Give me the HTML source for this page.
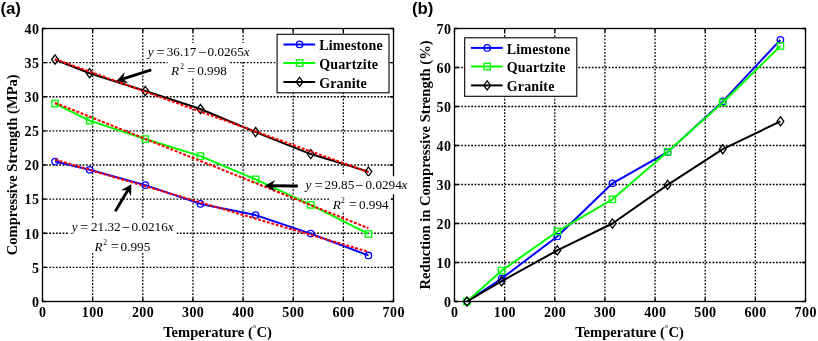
<!DOCTYPE html>
<html><head><meta charset="utf-8"><style>
html,body{margin:0;padding:0;background:#fff;}
svg{display:block;}
text{font-family:"Liberation Serif",serif;}
.tl text{font-size:14px;font-weight:bold;letter-spacing:0.4px;}
.lg{font-size:14px;font-weight:bold;letter-spacing:0.15px;}
.lab{font-size:14.6px;font-weight:bold;}
.eq{font-size:13.2px;}
.pl{font-family:"Liberation Sans",sans-serif;font-size:16.8px;font-weight:bold;}
</style></head><body>
<svg width="818" height="341" viewBox="0 0 818 341">
<rect width="818" height="341" fill="#fff"/>
<path d="M92.64 28.5V301.5M142.79 28.5V301.5M192.93 28.5V301.5M243.07 28.5V301.5M293.21 28.5V301.5M343.36 28.5V301.5M42.5 267.38H393.5M42.5 233.25H393.5M42.5 199.12H393.5M42.5 165H393.5M42.5 130.88H393.5M42.5 96.75H393.5M42.5 62.62H393.5" stroke="#000" stroke-width="1.3" stroke-dasharray="1.75 1.6" fill="none"/><path d="M42.5 301.5v-3.5M42.5 28.5v3.5M92.64 301.5v-3.5M92.64 28.5v3.5M142.79 301.5v-3.5M142.79 28.5v3.5M192.93 301.5v-3.5M192.93 28.5v3.5M243.07 301.5v-3.5M243.07 28.5v3.5M293.21 301.5v-3.5M293.21 28.5v3.5M343.36 301.5v-3.5M343.36 28.5v3.5M393.5 301.5v-3.5M393.5 28.5v3.5M42.5 301.5h3.5M393.5 301.5h-3.5M42.5 267.38h3.5M393.5 267.38h-3.5M42.5 233.25h3.5M393.5 233.25h-3.5M42.5 199.12h3.5M393.5 199.12h-3.5M42.5 165h3.5M393.5 165h-3.5M42.5 130.88h3.5M393.5 130.88h-3.5M42.5 96.75h3.5M393.5 96.75h-3.5M42.5 62.62h3.5M393.5 62.62h-3.5M42.5 28.5h3.5M393.5 28.5h-3.5" stroke="#000" stroke-width="1.3" fill="none"/>
<polyline points="55.04,161.59 89.63,169.78 145.29,185.13 200.45,203.9 255.61,215.1 310.76,233.59 368.43,255.43" fill="none" stroke="#0000ff" stroke-width="2.0" stroke-linejoin="round"/><circle cx="55.04" cy="161.59" r="3.2" fill="none" stroke="#0000ff" stroke-width="1.3"/><circle cx="89.63" cy="169.78" r="3.2" fill="none" stroke="#0000ff" stroke-width="1.3"/><circle cx="145.29" cy="185.13" r="3.2" fill="none" stroke="#0000ff" stroke-width="1.3"/><circle cx="200.45" cy="203.9" r="3.2" fill="none" stroke="#0000ff" stroke-width="1.3"/><circle cx="255.61" cy="215.1" r="3.2" fill="none" stroke="#0000ff" stroke-width="1.3"/><circle cx="310.76" cy="233.59" r="3.2" fill="none" stroke="#0000ff" stroke-width="1.3"/><circle cx="368.43" cy="255.43" r="3.2" fill="none" stroke="#0000ff" stroke-width="1.3"/>
<polyline points="55.04,103.57 89.63,120.64 145.29,139.06 200.45,156.13 255.61,179.33 310.76,204.93 368.43,233.93" fill="none" stroke="#00ff00" stroke-width="2.0" stroke-linejoin="round"/><rect x="51.84" y="100.37" width="6.4" height="6.4" fill="none" stroke="#00ff00" stroke-width="1.3"/><rect x="86.43" y="117.44" width="6.4" height="6.4" fill="none" stroke="#00ff00" stroke-width="1.3"/><rect x="142.09" y="135.87" width="6.4" height="6.4" fill="none" stroke="#00ff00" stroke-width="1.3"/><rect x="197.25" y="152.93" width="6.4" height="6.4" fill="none" stroke="#00ff00" stroke-width="1.3"/><rect x="252.41" y="176.13" width="6.4" height="6.4" fill="none" stroke="#00ff00" stroke-width="1.3"/><rect x="307.56" y="201.73" width="6.4" height="6.4" fill="none" stroke="#00ff00" stroke-width="1.3"/><rect x="365.23" y="230.73" width="6.4" height="6.4" fill="none" stroke="#00ff00" stroke-width="1.3"/>
<polyline points="55.04,59.49 89.63,73.2 145.29,91.02 200.45,109.04 255.61,132.1 310.76,154.08 368.43,171.62" fill="none" stroke="#000" stroke-width="2.0" stroke-linejoin="round"/><path d="M55.04 54.89L58.44 59.49L55.04 64.09L51.64 59.49Z" fill="none" stroke="#000" stroke-width="1.3"/><path d="M89.63 68.6L93.03 73.2L89.63 77.8L86.23 73.2Z" fill="none" stroke="#000" stroke-width="1.3"/><path d="M145.29 86.42L148.69 91.02L145.29 95.62L141.89 91.02Z" fill="none" stroke="#000" stroke-width="1.3"/><path d="M200.45 104.44L203.85 109.04L200.45 113.64L197.05 109.04Z" fill="none" stroke="#000" stroke-width="1.3"/><path d="M255.61 127.5L259.01 132.1L255.61 136.7L252.21 132.1Z" fill="none" stroke="#000" stroke-width="1.3"/><path d="M310.76 149.48L314.16 154.08L310.76 158.68L307.36 154.08Z" fill="none" stroke="#000" stroke-width="1.3"/><path d="M368.43 167.02L371.83 171.62L368.43 176.22L365.03 171.62Z" fill="none" stroke="#000" stroke-width="1.3"/>
<line x1="55.04" y1="59.16" x2="368.43" y2="172.2" stroke="#ff0000" stroke-width="2.1" stroke-dasharray="3 1.6"/>
<line x1="55.04" y1="102.79" x2="368.43" y2="228.2" stroke="#ff0000" stroke-width="2.1" stroke-dasharray="3 1.6"/>
<line x1="55.04" y1="159.68" x2="368.43" y2="251.81" stroke="#ff0000" stroke-width="2.1" stroke-dasharray="3 1.6"/>
<rect x="42.5" y="28.5" width="351" height="273" fill="none" stroke="#000" stroke-width="1.3"/>
<rect x="277.1" y="34.3" width="111.9" height="58.5" fill="#fff" stroke="#000" stroke-width="1.1"/><line x1="283.4" y1="44.4" x2="315.1" y2="44.4" stroke="#0000ff" stroke-width="2.0"/><circle cx="299.6" cy="44.4" r="3.2" fill="none" stroke="#0000ff" stroke-width="1.3"/><text x="319.2" y="50.1" class="lg">Limestone</text><line x1="283.4" y1="63" x2="315.1" y2="63" stroke="#00ff00" stroke-width="2.0"/><rect x="296.4" y="59.8" width="6.4" height="6.4" fill="none" stroke="#00ff00" stroke-width="1.3"/><text x="319.2" y="68.7" class="lg">Quartzite</text><line x1="283.4" y1="81.9" x2="315.1" y2="81.9" stroke="#000" stroke-width="2.0"/><path d="M299.6 77.3L303 81.9L299.6 86.5L296.2 81.9Z" fill="none" stroke="#000" stroke-width="1.3"/><text x="319.2" y="87.6" class="lg">Granite</text>
<rect x="144.3" y="43" width="108.3" height="18.1" fill="#fff"/>
<rect x="167.5" y="60" width="61.7" height="17.1" fill="#fff"/>
<g transform="translate(0 55.8) scale(1 1.0)"><text class="eq" x="147.8" y="0" font-style="italic">y</text><text class="eq" x="156.45" y="0.9" style="font-size:14.8px">=</text><text class="eq" x="166.7" y="0">36.17</text><text class="eq" x="197.9" y="0.9" style="font-size:14.8px">&#8722;</text><text class="eq" x="207.5" y="0">0.0265</text><text class="eq" x="243.7" y="0" font-style="italic">x</text></g>
<g transform="translate(0 74.5) scale(1 1.0)"><text class="eq" x="171" y="0" font-style="italic">R</text><text class="eq" x="180.2" y="-5.6" style="font-size:7.5px">2</text><text class="eq" x="186.95" y="0.9" style="font-size:14.8px">=</text><text class="eq" x="197.2" y="0">0.998</text></g>
<rect x="301.9" y="176.2" width="108.7" height="18.1" fill="#fff"/>
<rect x="329.2" y="194" width="61.7" height="17.1" fill="#fff"/>
<g transform="translate(0 189) scale(1 1.0)"><text class="eq" x="305.4" y="0" font-style="italic">y</text><text class="eq" x="314.45" y="0.9" style="font-size:14.8px">=</text><text class="eq" x="324.6" y="0">29.85</text><text class="eq" x="355.1" y="0.9" style="font-size:14.8px">&#8722;</text><text class="eq" x="365.5" y="0">0.0294</text><text class="eq" x="401.4" y="0" font-style="italic">x</text></g>
<g transform="translate(0 208.5) scale(1 1.0)"><text class="eq" x="332.7" y="0" font-style="italic">R</text><text class="eq" x="341.1" y="-5.6" style="font-size:7.5px">2</text><text class="eq" x="348.75" y="0.9" style="font-size:14.8px">=</text><text class="eq" x="358.9" y="0">0.994</text></g>
<rect x="68.3" y="218.2" width="108.3" height="18.1" fill="#fff"/>
<rect x="90.9" y="236" width="61.7" height="17.1" fill="#fff"/>
<g transform="translate(0 231) scale(1 1.0)"><text class="eq" x="71.8" y="0" font-style="italic">y</text><text class="eq" x="80.05" y="0.9" style="font-size:14.8px">=</text><text class="eq" x="91" y="0">21.32</text><text class="eq" x="121.5" y="0.9" style="font-size:14.8px">&#8722;</text><text class="eq" x="131.5" y="0">0.0216</text><text class="eq" x="167.7" y="0" font-style="italic">x</text></g>
<g transform="translate(0 250.5) scale(1 1.0)"><text class="eq" x="94.4" y="0" font-style="italic">R</text><text class="eq" x="103.2" y="-5.6" style="font-size:7.5px">2</text><text class="eq" x="110.85" y="0.9" style="font-size:14.8px">=</text><text class="eq" x="120.6" y="0">0.995</text></g>
<line x1="151.2" y1="69.9" x2="123.07" y2="78.87" stroke="#000" stroke-width="2.8"/><path d="M116.4 81L124.64 72.28L123.07 78.87L128.17 83.33Z" fill="#000"/>
<line x1="297.8" y1="186" x2="271.7" y2="185.76" stroke="#000" stroke-width="2.8"/><path d="M264.7 185.7L275.25 180L271.7 185.76L275.15 191.59Z" fill="#000"/>
<line x1="115.3" y1="211.3" x2="127.82" y2="190.22" stroke="#000" stroke-width="2.8"/><path d="M131.4 184.2L131.02 196.19L127.82 190.22L121.05 190.26Z" fill="#000"/>
<g class="tl"><text x="42.7" y="317" text-anchor="middle">0</text><text x="92.84" y="317" text-anchor="middle">100</text><text x="142.99" y="317" text-anchor="middle">200</text><text x="193.13" y="317" text-anchor="middle">300</text><text x="243.27" y="317" text-anchor="middle">400</text><text x="293.41" y="317" text-anchor="middle">500</text><text x="343.56" y="317" text-anchor="middle">600</text><text x="393.7" y="317" text-anchor="middle">700</text><text x="39.4" y="307.4" text-anchor="end">0</text><text x="39.4" y="272.68" text-anchor="end">5</text><text x="39.4" y="238.55" text-anchor="end">10</text><text x="39.4" y="204.43" text-anchor="end">15</text><text x="39.4" y="170.3" text-anchor="end">20</text><text x="39.4" y="136.18" text-anchor="end">25</text><text x="39.4" y="102.05" text-anchor="end">30</text><text x="39.4" y="67.92" text-anchor="end">35</text><text x="39.4" y="33.8" text-anchor="end">40</text></g>
<text class="lab" x="217.5" y="337.2" text-anchor="middle">Temperature (<tspan dy="-6" font-size="9">&#176;</tspan><tspan dy="6">C)</tspan></text>
<text class="lab" transform="translate(17 164.8) rotate(-90)" text-anchor="middle">Compressive Strength (MPa)</text>
<text class="pl" x="0.4" y="14.4">(a)</text>
<path d="M504.64 28.5V301.5M554.79 28.5V301.5M604.93 28.5V301.5M655.07 28.5V301.5M705.21 28.5V301.5M755.36 28.5V301.5M454.5 262.5H805.5M454.5 223.5H805.5M454.5 184.5H805.5M454.5 145.5H805.5M454.5 106.5H805.5M454.5 67.5H805.5" stroke="#000" stroke-width="1.3" stroke-dasharray="1.75 1.6" fill="none"/><path d="M454.5 301.5v-3.5M454.5 28.5v3.5M504.64 301.5v-3.5M504.64 28.5v3.5M554.79 301.5v-3.5M554.79 28.5v3.5M604.93 301.5v-3.5M604.93 28.5v3.5M655.07 301.5v-3.5M655.07 28.5v3.5M705.21 301.5v-3.5M705.21 28.5v3.5M755.36 301.5v-3.5M755.36 28.5v3.5M805.5 301.5v-3.5M805.5 28.5v3.5M454.5 301.5h3.5M805.5 301.5h-3.5M454.5 262.5h3.5M805.5 262.5h-3.5M454.5 223.5h3.5M805.5 223.5h-3.5M454.5 184.5h3.5M805.5 184.5h-3.5M454.5 145.5h3.5M805.5 145.5h-3.5M454.5 106.5h3.5M805.5 106.5h-3.5M454.5 67.5h3.5M805.5 67.5h-3.5M454.5 28.5h3.5M805.5 28.5h-3.5" stroke="#000" stroke-width="1.3" fill="none"/>
<polyline points="467.04,301.5 501.63,278.49 557.29,236.49 612.45,183.33 667.61,152.13 722.76,101.43 780.43,39.81" fill="none" stroke="#0000ff" stroke-width="2.0" stroke-linejoin="round"/><circle cx="467.04" cy="301.5" r="3.2" fill="none" stroke="#0000ff" stroke-width="1.3"/><circle cx="501.63" cy="278.49" r="3.2" fill="none" stroke="#0000ff" stroke-width="1.3"/><circle cx="557.29" cy="236.49" r="3.2" fill="none" stroke="#0000ff" stroke-width="1.3"/><circle cx="612.45" cy="183.33" r="3.2" fill="none" stroke="#0000ff" stroke-width="1.3"/><circle cx="667.61" cy="152.13" r="3.2" fill="none" stroke="#0000ff" stroke-width="1.3"/><circle cx="722.76" cy="101.43" r="3.2" fill="none" stroke="#0000ff" stroke-width="1.3"/><circle cx="780.43" cy="39.81" r="3.2" fill="none" stroke="#0000ff" stroke-width="1.3"/>
<polyline points="467.04,301.5 501.63,270.69 557.29,231.5 612.45,199.32 667.61,151.74 722.76,102.41 780.43,46.05" fill="none" stroke="#00ff00" stroke-width="2.0" stroke-linejoin="round"/><rect x="463.84" y="298.3" width="6.4" height="6.4" fill="none" stroke="#00ff00" stroke-width="1.3"/><rect x="498.43" y="267.49" width="6.4" height="6.4" fill="none" stroke="#00ff00" stroke-width="1.3"/><rect x="554.09" y="228.3" width="6.4" height="6.4" fill="none" stroke="#00ff00" stroke-width="1.3"/><rect x="609.25" y="196.12" width="6.4" height="6.4" fill="none" stroke="#00ff00" stroke-width="1.3"/><rect x="664.41" y="148.54" width="6.4" height="6.4" fill="none" stroke="#00ff00" stroke-width="1.3"/><rect x="719.56" y="99.2" width="6.4" height="6.4" fill="none" stroke="#00ff00" stroke-width="1.3"/><rect x="777.23" y="42.85" width="6.4" height="6.4" fill="none" stroke="#00ff00" stroke-width="1.3"/>
<polyline points="467.04,301.5 501.63,281.22 557.29,250.41 612.45,223.5 667.61,184.89 722.76,149.21 780.43,121.32" fill="none" stroke="#000" stroke-width="2.0" stroke-linejoin="round"/><path d="M467.04 296.9L470.44 301.5L467.04 306.1L463.64 301.5Z" fill="none" stroke="#000" stroke-width="1.3"/><path d="M501.63 276.62L505.03 281.22L501.63 285.82L498.23 281.22Z" fill="none" stroke="#000" stroke-width="1.3"/><path d="M557.29 245.81L560.69 250.41L557.29 255.01L553.89 250.41Z" fill="none" stroke="#000" stroke-width="1.3"/><path d="M612.45 218.9L615.85 223.5L612.45 228.1L609.05 223.5Z" fill="none" stroke="#000" stroke-width="1.3"/><path d="M667.61 180.29L671.01 184.89L667.61 189.49L664.21 184.89Z" fill="none" stroke="#000" stroke-width="1.3"/><path d="M722.76 144.61L726.16 149.21L722.76 153.81L719.36 149.21Z" fill="none" stroke="#000" stroke-width="1.3"/><path d="M780.43 116.72L783.83 121.32L780.43 125.92L777.03 121.32Z" fill="none" stroke="#000" stroke-width="1.3"/>
<rect x="454.5" y="28.5" width="351" height="273" fill="none" stroke="#000" stroke-width="1.3"/>
<rect x="464.7" y="37.8" width="112.1" height="58.5" fill="#fff" stroke="#000" stroke-width="1.1"/><line x1="471" y1="47.9" x2="502.7" y2="47.9" stroke="#0000ff" stroke-width="2.0"/><circle cx="487.2" cy="47.9" r="3.2" fill="none" stroke="#0000ff" stroke-width="1.3"/><text x="506.8" y="53.6" class="lg">Limestone</text><line x1="471" y1="66.5" x2="502.7" y2="66.5" stroke="#00ff00" stroke-width="2.0"/><rect x="484" y="63.3" width="6.4" height="6.4" fill="none" stroke="#00ff00" stroke-width="1.3"/><text x="506.8" y="72.2" class="lg">Quartzite</text><line x1="471" y1="85.4" x2="502.7" y2="85.4" stroke="#000" stroke-width="2.0"/><path d="M487.2 80.8L490.6 85.4L487.2 90L483.8 85.4Z" fill="none" stroke="#000" stroke-width="1.3"/><text x="506.8" y="91.1" class="lg">Granite</text>
<g class="tl"><text x="454.7" y="317" text-anchor="middle">0</text><text x="504.84" y="317" text-anchor="middle">100</text><text x="554.99" y="317" text-anchor="middle">200</text><text x="605.13" y="317" text-anchor="middle">300</text><text x="655.27" y="317" text-anchor="middle">400</text><text x="705.41" y="317" text-anchor="middle">500</text><text x="755.56" y="317" text-anchor="middle">600</text><text x="805.7" y="317" text-anchor="middle">700</text><text x="451.4" y="307.4" text-anchor="end">0</text><text x="451.4" y="267.8" text-anchor="end">10</text><text x="451.4" y="228.8" text-anchor="end">20</text><text x="451.4" y="189.8" text-anchor="end">30</text><text x="451.4" y="150.8" text-anchor="end">40</text><text x="451.4" y="111.8" text-anchor="end">50</text><text x="451.4" y="72.8" text-anchor="end">60</text><text x="451.4" y="33.8" text-anchor="end">70</text></g>
<text class="lab" x="629.5" y="337.2" text-anchor="middle">Temperature (<tspan dy="-6" font-size="9">&#176;</tspan><tspan dy="6">C)</tspan></text>
<text class="lab" transform="translate(430 164.9) rotate(-90)" text-anchor="middle">Reduction in Compressive Strength (%)</text>
<text class="pl" x="412" y="14.4">(b)</text>
</svg>
</body></html>
